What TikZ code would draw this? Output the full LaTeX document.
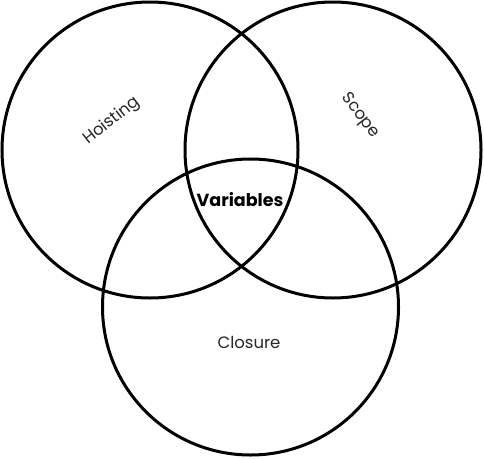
\documentclass[tikz,border=0pt]{standalone}
\usepackage{fontspec}
\setmainfont{Poppins}
\begin{document}
\begin{tikzpicture}[x=1pt,y=-1pt,
  ring/.style={draw=black,line width=3pt},
  lbl/.style={font=\fontsize{16.5}{19}\selectfont,text=black!85},
  core/.style={font=\fontsize{17.5}{20}\selectfont\bfseries,text=black}]
\useasboundingbox (0,0) rectangle (484,458);
\fill[white] (0,0) rectangle (484,458);
\node[ring,circle,minimum size=296pt,inner sep=0pt] (hoist) at (150,150) {};
\node[ring,circle,minimum size=296pt,inner sep=0pt] (scope) at (333,150) {};
\node[ring,circle,minimum size=296pt,inner sep=0pt] (clos) at (250.5,307) {};
\node[lbl,rotate=38,inner sep=0pt] (th) at (112,121) {Hoisting};
\node[lbl,rotate=-52,inner sep=0pt] (ts) at (360,116) {Scope};
\node[lbl,inner sep=0pt] (tc) at (249,342) {Closure};
\node[core,inner sep=0pt] (tv) at (240,200) {Variables};
\end{tikzpicture}
\end{document}
